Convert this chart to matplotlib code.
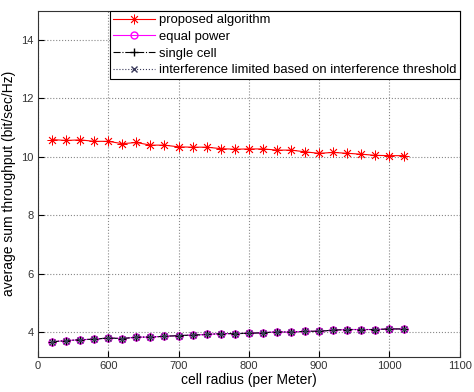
import matplotlib
matplotlib.use("Agg")
import matplotlib.pyplot as plt

plt.rcParams['font.family'] = ['Liberation Sans', 'DejaVu Sans']

cell_radius = [520, 540, 560, 580, 600, 620, 640, 660, 680, 700, 720, 740, 760,
               780, 800, 820, 840, 860, 880, 900, 920, 940, 960, 980, 1000, 1020]
proposed = [10.59, 10.56, 10.58, 10.53, 10.53, 10.45, 10.49, 10.40, 10.40, 10.34,
            10.33, 10.33, 10.28, 10.26, 10.27, 10.27, 10.23, 10.23, 10.17, 10.12,
            10.15, 10.12, 10.09, 10.05, 10.04, 10.04]
equal_power = [3.67, 3.71, 3.74, 3.76, 3.80, 3.78, 3.83, 3.83, 3.86, 3.88, 3.90,
               3.92, 3.95, 3.95, 3.96, 3.98, 4.01, 4.00, 4.03, 4.03, 4.07, 4.09,
               4.09, 4.09, 4.11, 4.11]
single_cell = list(equal_power)
interference_limited = list(equal_power)

x_ticks = [500, 600, 700, 800, 900, 1000, 1100]
x_ticklabels = ['0', '600', '700', '800', '900', '1000', '1100']
y_ticks = [4, 6, 8, 10, 12, 14]

fig = plt.figure(figsize=(4.74, 3.92), dpi=100)
ax = fig.add_axes([0.080, 0.0893, 0.890, 0.8834])

ax.plot(cell_radius, proposed, '-', color='red', marker=(8, 2, 0), markersize=7,
        markeredgewidth=0.6, linewidth=0.8, label='proposed algorithm')
ax.plot(cell_radius, equal_power, '-', color='magenta', marker='o', markersize=5,
        markerfacecolor='none', linewidth=0.8, label='equal power')
ax.plot(cell_radius, single_cell, '-.', color='black', marker='+', markersize=6,
        linewidth=0.8, label='single cell')
ax.plot(cell_radius, interference_limited, ':', color='#3a3a5a', marker='x', markersize=5,
        linewidth=0.8, label='interference limited based on interference threshold')

ax.set_xlim(500, 1100)
ax.set_ylim(3.15, 15)
ax.set_xticks(x_ticks)
ax.set_xticklabels(x_ticklabels)
ax.set_yticks(y_ticks)
ax.tick_params(direction='in', labelsize=8, labelcolor='#333333', length=4, pad=3)
ax.grid(True, linestyle=':', color='#888888', linewidth=0.8)
for s in ax.spines.values():
    s.set_color('#333333')

ax.set_xlabel('cell radius (per Meter)', fontsize=10, labelpad=1)
ax.set_ylabel('average sum throughput (bit/sec/Hz)', fontsize=10, labelpad=4)

leg = ax.legend(loc='upper right', borderaxespad=0, fontsize=9.4, fancybox=False,
                framealpha=1, edgecolor='black', handlelength=3.2,
                borderpad=0.25, labelspacing=0.35, handletextpad=0.3)
leg.get_frame().set_linewidth(0.8)

fig.savefig('out.png', dpi=100)
